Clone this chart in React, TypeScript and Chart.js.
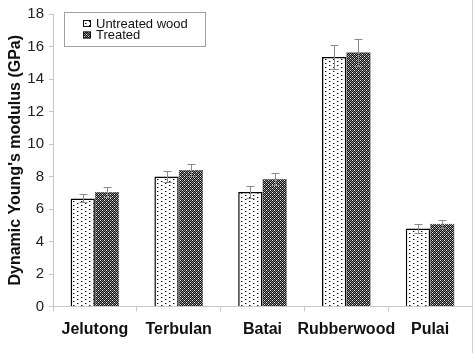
import React, { useEffect, useRef } from "react";
import { Chart, registerables } from "chart.js";

Chart.register(...registerables);

const categories = ["Jelutong", "Terbulan", "Batai", "Rubberwood", "Pulai"];
const untreated = [6.65, 8.0, 7.05, 15.35, 4.8];
const untreatedErr = [0.25, 0.35, 0.38, 0.73, 0.25];
const treated = [7.05, 8.4, 7.85, 15.65, 5.1];
const treatedErr = [0.33, 0.38, 0.38, 0.83, 0.25];
const seriesNames = ["Untreated wood", "Treated"];
const yMin = 0;
const yMax = 18;
const yStep = 2;

function makeDotPattern(): CanvasPattern | string {
  const c = document.createElement("canvas");
  c.width = 8;
  c.height = 8;
  const g = c.getContext("2d");
  if (!g) return "#fff";
  g.fillStyle = "#ffffff";
  g.fillRect(0, 0, 8, 8);
  g.fillStyle = "#111111";
  g.fillRect(1, 1, 1, 1);
  g.fillRect(5, 3, 1, 1);
  g.fillRect(1, 5, 1, 1);
  g.fillRect(5, 7, 1, 1);
  g.fillStyle = "#999999";
  g.fillRect(2, 1, 1, 1);
  g.fillRect(6, 3, 1, 1);
  g.fillRect(2, 5, 1, 1);
  g.fillRect(6, 7, 1, 1);
  const p = g.createPattern(c, "repeat");
  return p || "#fff";
}

function makeCheckPattern(): CanvasPattern | string {
  const c = document.createElement("canvas");
  c.width = 4;
  c.height = 4;
  const g = c.getContext("2d");
  if (!g) return "#555";
  const W = "#eeeeee";
  const K = "#111111";
  const G = "#888888";
  const grid = [
    [W, K, G, K],
    [K, G, K, G],
    [G, K, W, K],
    [K, G, K, G],
  ];
  for (let r = 0; r < 4; r++) {
    for (let q = 0; q < 4; q++) {
      g.fillStyle = grid[r][q];
      g.fillRect(q, r, 1, 1);
    }
  }
  const p = g.createPattern(c, "repeat");
  return p || "#555";
}

export default function App() {
  const ref = useRef<HTMLCanvasElement | null>(null);

  useEffect(() => {
    if (!ref.current) return;
    const dotPat = makeDotPattern();
    const checkPat = makeCheckPattern();
    const errs = [untreatedErr, treatedErr];
    const vals = [untreated, treated];

    const errorBars = {
      id: "errorBars",
      afterDatasetsDraw(chart: any) {
        const ctx = chart.ctx;
        const ys = chart.scales.y;
        ctx.save();
        ctx.strokeStyle = "#8a8a8a";
        ctx.lineWidth = 1;
        for (let d = 0; d < 2; d++) {
          const meta = chart.getDatasetMeta(d);
          meta.data.forEach((el: any, i: number) => {
            const v = vals[d][i];
            const e = errs[d][i];
            const x = Math.round(el.x) + 0.5;
            const yt = Math.round(ys.getPixelForValue(v + e)) + 0.5;
            const yb = Math.round(ys.getPixelForValue(v - e)) + 0.5;
            ctx.beginPath();
            ctx.moveTo(x, yt);
            ctx.lineTo(x, yb);
            ctx.moveTo(x - 4, yt);
            ctx.lineTo(x + 4, yt);
            ctx.moveTo(x - 4, yb);
            ctx.lineTo(x + 4, yb);
            ctx.stroke();
          });
        }
        ctx.restore();
      },
    };

    const legendBox = {
      id: "legendBox",
      afterDraw(chart: any) {
        const ctx = chart.ctx;
        ctx.save();
        ctx.strokeStyle = "#a0a0a0";
        ctx.lineWidth = 1;
        ctx.fillStyle = "#ffffff";
        ctx.fillRect(64.5, 12.5, 141, 34);
        ctx.strokeRect(64.5, 12.5, 141, 34);
        const pats = [dotPat, checkPat];
        const rows = [23.5, 35];
        ctx.font = "13px Arial, 'Liberation Sans', sans-serif";
        ctx.textBaseline = "middle";
        for (let i = 0; i < 2; i++) {
          ctx.fillStyle = pats[i] as any;
          ctx.fillRect(83, rows[i] - 3.5, 8, 7);
          ctx.strokeStyle = "#111";
          ctx.lineWidth = 1;
          ctx.strokeRect(83.5, rows[i] - 3, 7, 6);
          ctx.fillStyle = "#111";
          ctx.fillText(seriesNames[i], 96, rows[i] + 0.5);
        }
        ctx.strokeStyle = "#cfcfcf";
        ctx.beginPath();
        ctx.moveTo(472.5, 0);
        ctx.lineTo(472.5, 353);
        ctx.stroke();
        ctx.restore();
      },
    };

    const chart = new Chart(ref.current, {
      type: "bar",
      data: {
        labels: categories,
        datasets: [
          {
            label: seriesNames[0],
            data: untreated,
            backgroundColor: dotPat as any,
            borderColor: "#000",
            borderWidth: 1.5,
            categoryPercentage: 0.58,
            barPercentage: 1,
          },
          {
            label: seriesNames[1],
            data: treated,
            backgroundColor: checkPat as any,
            borderColor: "#222",
            borderWidth: 0.5,
            categoryPercentage: 0.58,
            barPercentage: 1,
          },
        ],
      },
      options: {
        animation: false,
        responsive: false,
        maintainAspectRatio: false,
        layout: { padding: { top: 12, right: 2, left: 0, bottom: 0 } },
        plugins: {
          legend: { display: false },
          tooltip: { enabled: false },
        },
        scales: {
          x: {
            grid: {
              offset: true,
              drawOnChartArea: false,
              color: "#c8c8c8",
              tickLength: 5,
            },
            border: { color: "#c8c8c8" },
            ticks: {
              color: "#111",
              padding: 8,
              maxRotation: 0,
              autoSkip: false,
              font: { family: "Arial, 'Liberation Sans', sans-serif", size: 16, weight: "bold" },
            },
            afterFit(scale: any) {
              scale.height = 46.5;
            },
          },
          y: {
            min: yMin,
            max: yMax,
            grid: {
              drawOnChartArea: false,
              color: "#c8c8c8",
              tickLength: 4,
            },
            border: { color: "#c8c8c8" },
            ticks: {
              stepSize: yStep,
              color: "#222",
              padding: 5,
              font: { family: "Arial, 'Liberation Sans', sans-serif", size: 15 },
            },
            title: {
              display: true,
              text: "Dynamic Young's modulus (GPa)",
              color: "#111",
              padding: { top: 6, bottom: 0 },
              font: { family: "Arial, 'Liberation Sans', sans-serif", size: 16, weight: "bold" },
            },
            afterFit(scale: any) {
              scale.width = 53;
            },
          },
        },
      },
      plugins: [errorBars, legendBox],
    });
    return () => chart.destroy();
  }, []);

  return (
    <div style={{ position: "fixed", left: 0, top: 0, width: 474, height: 353, background: "#fff" }}>
      <canvas ref={ref} width={474} height={353} style={{ display: "block", width: 474, height: 353 }} />
    </div>
  );
}
